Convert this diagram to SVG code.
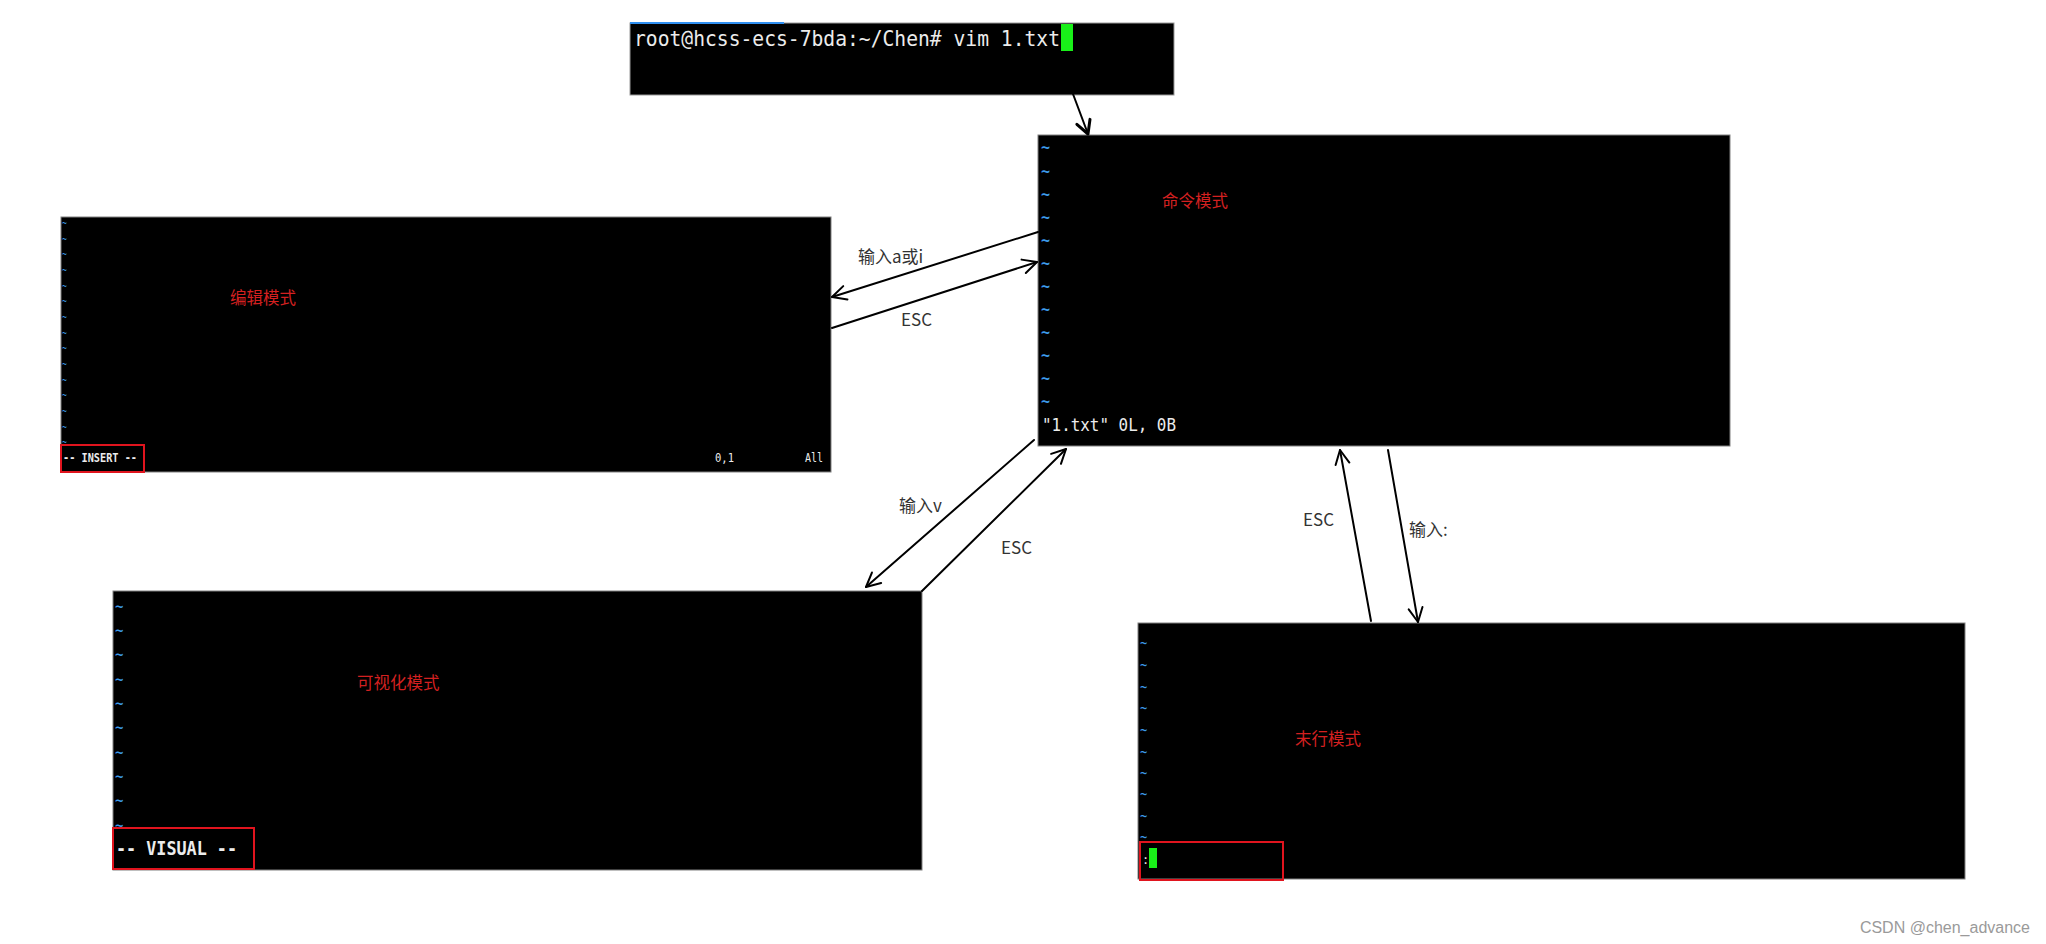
<svg xmlns="http://www.w3.org/2000/svg" width="2046" height="944" viewBox="0 0 2046 944">
<defs>
<style>
.scr{fill:#000;stroke:#808080;stroke-width:1}
.tl{font-family:"DejaVu Sans Mono",monospace;font-weight:bold;fill:#3d9be9}
.mono{font-family:"DejaVu Sans Mono","Liberation Mono",monospace;fill:#ececec}
.mode{font-family:"Noto Sans CJK SC",sans-serif;font-size:16.5px;fill:#d42020}
.lbl{font-family:"Noto Sans CJK SC",sans-serif;font-size:17px;fill:#333}
.red{fill:none;stroke:#e0141e;stroke-width:2}
.cur{fill:#19f019}
.con{stroke:#000;stroke-width:2;fill:none;stroke-linecap:round}
</style>
<marker id="ah" viewBox="0 0 20 20" refX="18" refY="10" markerWidth="20" markerHeight="20" markerUnits="userSpaceOnUse" orient="auto">
<path d="M4,3 L18,10 L4,17" fill="none" stroke="#000" stroke-width="2" stroke-linecap="round" stroke-linejoin="round"/>
</marker>
<marker id="ahb" viewBox="0 0 20 20" refX="17" refY="10" markerWidth="20" markerHeight="20" markerUnits="userSpaceOnUse" orient="auto">
<path d="M4,3 L17,10 L4,17" fill="none" stroke="#000" stroke-width="3" stroke-linecap="round" stroke-linejoin="round"/>
</marker>
</defs>
<rect width="2046" height="944" fill="#fff"/>

<g id="terminal">
<rect x="630" y="23" width="544" height="72" fill="#000" stroke="#999" stroke-width="1"/>
<line x1="630" y1="23" x2="784" y2="23" stroke="#2f8ff0" stroke-width="2"/>
<text class="mono" x="634" y="46" font-size="21" textLength="426" lengthAdjust="spacingAndGlyphs">root@hcss-ecs-7bda:~/Chen# vim 1.txt</text>
<rect class="cur" x="1061" y="24" width="12" height="27"/>
</g>

<g id="command-mode">
<rect class="scr" x="1038" y="135" width="692" height="311"/>
<g class="tl" font-size="15">
<text x="1041" y="153">~</text><text x="1041" y="177">~</text><text x="1041" y="200">~</text><text x="1041" y="223">~</text>
<text x="1041" y="246">~</text><text x="1041" y="269">~</text><text x="1041" y="292">~</text><text x="1041" y="315">~</text>
<text x="1041" y="338">~</text><text x="1041" y="361">~</text><text x="1041" y="384">~</text><text x="1041" y="407">~</text>
</g>
<text class="mode" x="1162" y="207">命令模式</text>
<text class="mono" x="1042" y="431" font-size="18" textLength="134" lengthAdjust="spacingAndGlyphs">"1.txt" 0L, 0B</text>
</g>

<g id="insert-mode">
<rect class="scr" x="61" y="217" width="770" height="255"/>
<g class="tl" font-size="8">
<text x="62" y="226">~</text><text x="62" y="242">~</text><text x="62" y="257">~</text><text x="62" y="273">~</text>
<text x="62" y="289">~</text><text x="62" y="304">~</text><text x="62" y="320">~</text><text x="62" y="336">~</text>
<text x="62" y="351">~</text><text x="62" y="367">~</text><text x="62" y="383">~</text><text x="62" y="398">~</text>
<text x="62" y="414">~</text><text x="62" y="430">~</text><text x="62" y="445">~</text>
</g>
<text class="mode" x="230" y="304">编辑模式</text>
<rect class="red" x="61" y="445" width="83" height="27"/>
<text class="mono" x="63" y="462" font-size="13" font-weight="bold" textLength="74" lengthAdjust="spacingAndGlyphs">-- INSERT --</text>
<text class="mono" x="715" y="462" font-size="12" textLength="19" lengthAdjust="spacingAndGlyphs">0,1</text>
<text class="mono" x="805" y="462" font-size="12" textLength="18" lengthAdjust="spacingAndGlyphs">All</text>
</g>

<g id="visual-mode">
<rect class="scr" x="113" y="591" width="809" height="279"/>
<g class="tl" font-size="14">
<text x="115" y="611">~</text><text x="115" y="635">~</text><text x="115" y="659">~</text><text x="115" y="684">~</text>
<text x="115" y="708">~</text><text x="115" y="732">~</text><text x="115" y="757">~</text><text x="115" y="781">~</text>
<text x="115" y="805">~</text><text x="115" y="830">~</text>
</g>
<text class="mode" x="357" y="689">可视化模式</text>
<rect class="red" x="113" y="828" width="141" height="41" fill="#000"/>
<text class="mono" x="116" y="855" font-size="20" font-weight="bold" textLength="121" lengthAdjust="spacingAndGlyphs">-- VISUAL --</text>
</g>

<g id="lastline-mode">
<rect class="scr" x="1138" y="623" width="827" height="256"/>
<g class="tl" font-size="12">
<text x="1140" y="647">~</text><text x="1140" y="669">~</text><text x="1140" y="691">~</text><text x="1140" y="712">~</text>
<text x="1140" y="734">~</text><text x="1140" y="756">~</text><text x="1140" y="777">~</text><text x="1140" y="798">~</text>
<text x="1140" y="820">~</text><text x="1140" y="841">~</text>
</g>
<text class="mode" x="1295" y="745">末行模式</text>
<rect class="red" x="1140" y="842" width="143" height="38"/>
<text class="mono" x="1142" y="864" font-size="12">:</text>
<rect class="cur" x="1149" y="848" width="8" height="20"/>
</g>

<g id="connectors">
<line class="con" x1="1073" y1="94" x2="1088" y2="134" stroke-width="3" marker-end="url(#ahb)"/>
<line class="con" x1="1038" y1="232" x2="832" y2="297" marker-end="url(#ah)"/>
<line class="con" x1="832" y1="328" x2="1037" y2="262" marker-end="url(#ah)"/>
<line class="con" x1="1034" y1="440" x2="866" y2="587" marker-end="url(#ah)"/>
<line class="con" x1="922" y1="591" x2="1066" y2="449" marker-end="url(#ah)"/>
<line class="con" x1="1371" y1="621" x2="1340" y2="450" marker-end="url(#ah)"/>
<line class="con" x1="1388" y1="450" x2="1418" y2="622" marker-end="url(#ah)"/>
</g>

<g id="labels">
<text class="lbl" x="858" y="263">输入a或i</text>
<text class="lbl" x="901" y="326">ESC</text>
<text class="lbl" x="899" y="512">输入v</text>
<text class="lbl" x="1001" y="554">ESC</text>
<text class="lbl" x="1303" y="526">ESC</text>
<text class="lbl" x="1409" y="536">输入:</text>
</g>

<text x="2030" y="933" text-anchor="end" font-family="Liberation Sans, Arial, sans-serif" font-size="16" fill="#9a9a9a">CSDN @chen_advance</text>
</svg>
